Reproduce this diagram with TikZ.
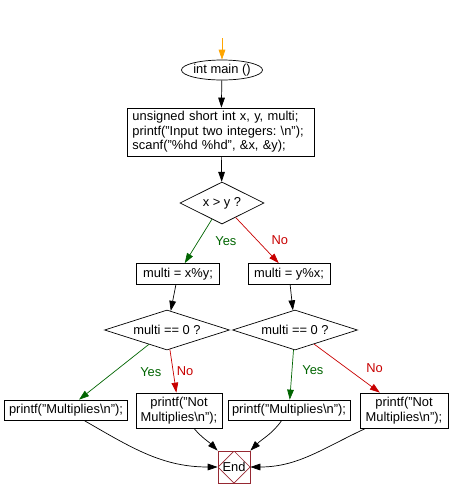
\documentclass[tikz,border=0pt]{standalone}
\usepackage{fontspec}
\setmainfont{Liberation Sans}
\usepackage{xcolor}
\usetikzlibrary{arrows.meta,shapes.geometric}
\frenchspacing

\definecolor{yesgreen}{RGB}{0,100,0}
\definecolor{nored}{RGB}{200,0,0}
\definecolor{startorange}{RGB}{255,165,0}
\definecolor{endred}{RGB}{150,40,50}

\begin{document}
\begin{tikzpicture}[x=0.03cm,y=0.03cm,
        font=\fontsize{11}{12.4}\selectfont,
        box/.style={draw,rectangle,inner sep=0.1cm,line width=0.6pt},
        cond/.style={draw,diamond,inner sep=1pt,line width=0.6pt},
        arr/.style={-{Triangle[length=0.3cm,width=0.2cm]},line width=0.6pt},
        yes/.style={arr,yesgreen},
        no/.style={arr,nored},
        lbl/.style={inner sep=0pt}]
            \useasboundingbox (0,0) rectangle (449,-500);

            \coordinate (start) at (222,-38);
            \node[draw,ellipse,line width=0.6pt,minimum width=2.28cm,minimum height=0.6cm,inner sep=0pt] (main) at (222,-70) {int main ()};
            \node[box,align=left,inner xsep=0.15cm,text width=5.31cm,minimum height=1.44cm] (decl) at (221,-132)
                {unsigned short int x, y, multi;\\printf("Input two integers: \textbackslash n");\\scanf("\%hd \%hd", \&x, \&y);};
            \node[cond,aspect=2,minimum width=2.52cm,minimum height=1.26cm] (xy) at (222,-203) {x > y ?};

            \node[box,minimum width=2.49cm,minimum height=0.63cm] (multx) at (178,-274) {multi = x\%y;};
            \node[box,minimum width=2.46cm,minimum height=0.63cm] (multy) at (289,-274) {multi = y\%x;};

            \node[cond,aspect=3,minimum width=3.75cm,minimum height=1.2cm] (zl) at (167,-330) {multi == 0 ?};
            \node[cond,aspect=3,minimum width=3.75cm,minimum height=1.2cm] (zr) at (295,-330) {multi == 0 ?};

            \node[box,minimum width=3.69cm,minimum height=0.6cm] (multl) at (66,-410) {printf("Multiplies\textbackslash n");};
            \node[box,align=center,minimum width=2.58cm,minimum height=1.05cm] (notl) at (179,-410.5) {printf("Not\\Multiplies\textbackslash n");};
            \node[box,minimum width=3.66cm,minimum height=0.6cm] (multr) at (289,-410) {printf("Multiplies\textbackslash n");};
            \node[box,align=center,minimum width=2.64cm,minimum height=1.05cm] (notr) at (404,-410.5) {printf("Not\\Multiplies\textbackslash n");};

            \node[draw=endred,line width=0.6pt,minimum size=0.96cm,inner sep=0pt,
                path picture={\draw[endred,line width=0.6pt] (path picture bounding box.north) -- (path picture bounding box.east)
                    -- (path picture bounding box.south) -- (path picture bounding box.west) -- cycle;}] (end) at (234,-467) {End};

            \draw[arr,startorange] (start) -- (main);
            \draw[arr] (main) -- (decl);
            \draw[arr] (decl) -- (xy);
            \draw[yes] (xy) -- node[lbl,right=0.5cm] {Yes} (multx);
            \draw[no] (xy) -- node[lbl,right=0.42cm] {No} (multy);
            \draw[arr] (multx) -- (zl);
            \draw[arr] (multy) -- (zr);
            \draw[yes] (zl) -- node[lbl,right=0.78cm] {Yes} (multl);
            \draw[no] (zl) -- node[lbl,right=0.1cm] {No} (notl);
            \draw[yes] (zr) -- node[lbl,pos=0.4,right=0.3cm] {Yes} (multr);
            \draw[no] (zr) -- node[lbl,right=0.57cm] {No} (notr);

            \foreach \n/\o/\i in {multl/-30/180, notl/-50/135, multr/-125/45, notr/-155/0}
                \draw[arr] (\n) to[out=\o,in=\i] (end);

        \end{tikzpicture}
\end{document}
